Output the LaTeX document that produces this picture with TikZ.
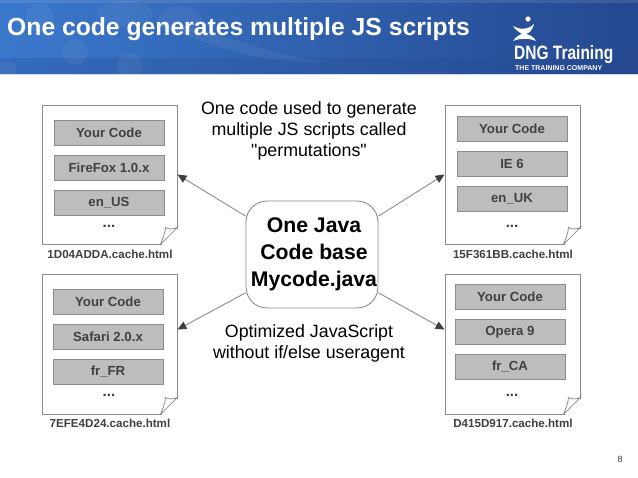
\documentclass[tikz,border=0pt]{standalone}
\usepackage{fontspec}
\setmainfont{Liberation Sans}
\newfontfamily\plainsans{Liberation Sans}
\usetikzlibrary{arrows.meta}
\definecolor{bannerL}{HTML}{3A78CC}
\definecolor{bannerR}{HTML}{25488F}
\definecolor{edgegrey}{HTML}{8C8C8C}
\definecolor{boxgrey}{HTML}{BDBDBD}
\definecolor{boxedge}{HTML}{8C8C8C}
\definecolor{labelgrey}{HTML}{404040}
\tikzset{
  x=1pt,y=-1pt,
  docpage/.style={draw=edgegrey,line width=0.9pt,fill=white,minimum width=135pt,minimum height=139pt,inner sep=0pt},
  item/.style={draw=boxedge,line width=0.8pt,fill=boxgrey,minimum width=110pt,minimum height=25pt,inner sep=0pt,
    font=\fontsize{13.2}{15}\selectfont\bfseries,text=labelgrey},
  fname/.style={font=\fontsize{11.6}{13}\selectfont\bfseries,text=labelgrey,inner sep=0pt},
  dotsl/.style={font=\fontsize{15}{15}\selectfont\bfseries,text=labelgrey,inner sep=0pt},
  note/.style={font=\fontsize{17.8}{21}\selectfont,align=center,text=black,inner sep=0pt},
  core/.style={draw=edgegrey,line width=0.9pt,fill=white,rounded corners=21pt,minimum width=132pt,minimum height=107pt,inner sep=0pt},
  coretext/.style={inner sep=0pt,font=\fontsize{21.2}{27}\selectfont\bfseries,align=center},
  link/.style={draw=edgegrey,line width=0.9pt,-{Triangle[length=9pt,width=8pt,color=labelgrey]}},
  foldline/.style={draw=edgegrey,line width=0.8pt},
  blob/.style={fill=white,opacity=0.05,draw=none},
}
\begin{document}
\begin{tikzpicture}
\useasboundingbox (0,0) rectangle (638,478);
\fill[white] (0,0) rectangle (638,478);
% banner
\shade[left color=bannerL,right color=bannerR] (0,0) rectangle (638,74);
\fill[white,opacity=0.10] (0,0) rectangle (638,3);
\fill[bannerR,opacity=0.25] (0,58) rectangle (638,74);
\fill[blob] (40,18) circle (14);
\fill[blob] (75,52) circle (13);
\fill[blob] (130,66) circle (13);
\fill[blob] (125,14) ellipse (28 and 13);
\fill[blob] (7,70) circle (9);
\fill[blob] (180,20) ellipse (22 and 14);
\fill[blob] (150,22) .. controls (230,30) and (260,55) .. (330,62) .. controls (260,65) and (210,45) .. (150,22);
\fill[white!75!bannerL] (0,74) rectangle (638,75);
\node[anchor=west,inner sep=0pt,text=white,font=\fontsize{24.7}{26}\selectfont\bfseries] (title) at (7,29.5) {One code generates multiple JS scripts};
% logo
\fill[white] (528,19) circle (2.6);
\fill[white] (513,26) .. controls (520,30) and (528,30) .. (534,24) .. controls (532,31) and (529,33) .. (526,34) .. controls (530,35) and (534,37) .. (536,41) .. controls (529,38) and (520,38) .. (513,41) .. controls (516,37) and (519,35) .. (522,33.5) .. controls (518,32) and (515,29) .. (513,26);
\node[anchor=west,inner sep=0pt,text=white,yscale=1.25,font=\fontsize{15.5}{17}\selectfont\bfseries] (brand) at (514,55) {DNG Training};
\node[anchor=west,inner sep=0pt,text=white,font=\fontsize{7}{8}\selectfont\bfseries] (slogan) at (515,68) {THE TRAINING COMPANY};
% pages
\node[docpage] (d1) at (109.5,174.5) {};
\node[docpage] (d2) at (512.5,174.5) {};
\node[docpage,minimum height=140pt] (d3) at (109.5,344) {};
\node[docpage,minimum height=140pt] (d4) at (512.5,344) {};
% folds
\foreach \n in {d1,d2,d3,d4}{
  \fill[white] ([shift={(-16.5,1.5)}]\n.south east) -- ([shift={(1.5,1.5)}]\n.south east) -- ([shift={(1.5,-16.5)}]\n.south east) -- cycle;
  \draw[foldline] ([xshift=-17pt]\n.south east) -- ([shift={(0,-17)}]\n.south east)
     .. controls ([shift={(-4,-15)}]\n.south east) and ([shift={(-9,-15)}]\n.south east) .. ([shift={(-12,-17)}]\n.south east)
     .. controls ([shift={(-12,-12)}]\n.south east) and ([shift={(-15,-5)}]\n.south east) .. ([xshift=-17pt]\n.south east);
}
% items
\node[item] (a1) at (109,132.5) {Your Code};
\node[item] (a2) at (109,167.5) {FireFox 1.0.x};
\node[item] (a3) at (109,202.5) {en\_US};
\node[dotsl] (a4) at (109,226) {...};
\node[fname] (a5) at (110,254.5) {1D04ADDA.cache.html};
\node[item] (b1) at (512,129) {Your Code};
\node[item] (b2) at (512,163.5) {IE 6};
\node[item] (b3) at (512,198.5) {en\_UK};
\node[dotsl] (b4) at (512,226) {...};
\node[fname] (b5) at (513,254.5) {15F361BB.cache.html};
\node[item] (c1) at (108,301.5) {Your Code};
\node[item] (c2) at (108,336.5) {Safari 2.0.x};
\node[item] (c3) at (108,371.5) {fr\_FR};
\node[dotsl] (c4) at (109,395) {...};
\node[fname] (c5) at (110,423.5) {7EFE4D24.cache.html};
\node[item] (e1) at (510,297) {Your Code};
\node[item] (e2) at (510,332) {Opera 9};
\node[item] (e3) at (510,367) {fr\_CA};
\node[dotsl] (e4) at (512,395) {...};
\node[fname] (e5) at (513,423.5) {D415D917.cache.html};
% centre
\node[core] (m) at (312,254.5) {};
\node[coretext] (mtext) at (314,254.5) {One Java\\Code base\\Mycode.java};
\draw[link] (m.150) -- (d1.east);
\draw[link] (m.30) -- (d2.west);
\draw[link] (m.210) -- (d3.12);
\draw[link] (m.330) -- (d4.168);
% notes
\node[note] (n1) at (309,130.5) {One code used to generate\\multiple JS scripts called\\{\plainsans"permutations"}};
\node[note] (n2) at (309,343) {Optimized JavaScript\\without if/else useragent};
\node[inner sep=0pt,font=\fontsize{9}{10}\selectfont,text=labelgrey] (pg) at (620,459) {8};
\end{tikzpicture}
\end{document}
